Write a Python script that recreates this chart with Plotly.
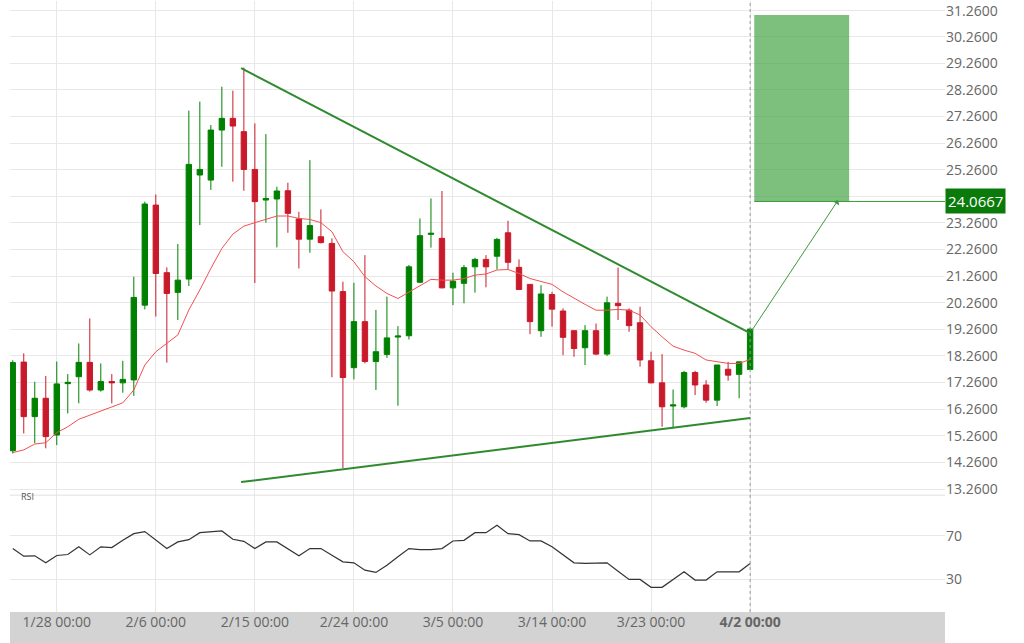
import plotly.graph_objects as go
import pandas as pd

dates = pd.date_range("2019-01-24", periods=68, freq="D")
opens = [14.70,18.03,15.98,16.67,15.29,17.22,17.48,18.02,16.98,17.30,17.25,17.36,20.17,23.93,21.39,20.65,21.15,25.06,24.87,26.75,27.19,26.69,25.27,24.12,24.16,24.47,23.41,22.65,22.74,22.49,20.68,17.82,19.55,18.05,
         18.32,18.97,19.02,21.03,22.83,22.68,20.82,20.99,21.61,21.89,22.01,22.89,21.59,20.95,19.21,20.57,19.95,19.21,18.57,19.21,18.33,20.24,19.98,19.51,18.08,17.25,16.38,16.35,17.64,17.17,16.60,17.76,17.57,17.75]
closes = [18.01,15.98,16.67,15.23,17.21,17.27,18.02,16.98,17.30,17.25,17.38,20.46,23.97,21.36,20.61,21.11,25.46,25.27,26.75,27.19,26.90,25.27,24.06,24.18,24.46,23.62,22.65,23.16,22.52,20.70,17.45,19.55,18.05,18.42,
          18.94,19.01,21.61,22.78,22.87,20.82,21.07,21.58,21.89,21.61,22.64,21.78,20.76,19.55,20.59,20.02,18.96,18.54,19.21,18.33,20.26,20.15,19.40,18.11,17.25,16.35,16.42,17.64,17.17,16.60,17.92,17.54,18.04,19.27]
highs = [18.10,18.36,17.29,17.51,18.05,17.58,18.73,19.67,17.98,17.58,18.08,21.24,24.06,24.33,21.59,22.47,27.48,27.82,26.94,28.38,28.23,29.10,27.00,26.60,24.62,24.77,23.68,25.62,23.77,22.68,21.05,21.01,22.05,19.99,
         20.49,19.38,21.68,23.43,24.18,24.46,21.39,21.68,21.95,22.05,22.70,23.34,21.89,20.95,20.92,20.67,20.05,19.21,19.42,19.48,20.49,21.58,20.05,20.11,18.42,18.33,17.00,17.70,17.70,17.35,17.92,18.04,18.04,19.32]
lows = [14.60,15.35,14.98,14.79,14.91,16.10,16.48,16.92,16.92,16.48,16.88,16.76,20.01,19.74,18.01,19.61,20.89,23.18,24.50,25.37,24.81,24.47,21.00,23.27,22.34,22.89,21.55,22.14,22.49,17.46,14.05,17.38,17.98,16.98,
        18.19,16.39,18.88,21.00,22.33,20.80,20.17,20.24,20.64,20.84,21.51,21.51,20.74,19.08,18.98,19.36,18.29,18.23,17.92,18.29,18.26,19.61,19.17,17.86,17.23,15.60,15.54,16.29,16.79,16.50,16.38,17.33,16.67,17.75]
ma = [14.63,14.73,14.95,15.00,15.38,15.60,15.88,16.04,16.19,16.35,16.50,16.98,17.92,18.42,18.73,19.05,19.99,20.74,21.55,22.30,22.84,23.14,23.27,23.39,23.52,23.52,23.43,23.39,23.27,22.93,22.18,21.80,21.24,20.89,
      20.61,20.42,20.67,20.92,21.14,21.11,21.11,21.17,21.30,21.34,21.49,21.51,21.36,21.17,21.07,20.95,20.67,20.42,20.20,19.98,19.98,20.01,19.98,19.80,19.36,18.98,18.63,18.48,18.36,18.11,18.04,17.98,17.98,18.13]
rsi = [58.4,51.4,51.7,45.3,52.0,52.9,60.0,52.6,60.0,59.3,66.0,72.1,74.0,66.0,58.4,64.5,66.6,73.0,74.0,74.6,67.0,65.1,58.4,64.5,64.5,58.4,51.7,58.4,58.4,52.3,46.2,45.3,38.5,36.4,43.1,50.8,58.4,57.5,
       57.5,58.4,65.4,66.0,73.0,73.0,79.8,72.1,71.2,65.4,65.4,60.0,52.9,45.3,44.7,45.3,45.3,37.6,30.0,30.0,22.7,22.7,30.0,37.0,29.4,29.4,37.0,37.0,37.0,44.7]

price_ticks = [13.26 + i for i in range(19)]
tick_dates = ["2019-01-28", "2019-02-06", "2019-02-15", "2019-02-24", "2019-03-05", "2019-03-14", "2019-03-23", "2019-04-01"]
tick_text = ["1/28 00:00", "2/6 00:00", "2/15 00:00", "2/24 00:00", "3/5 00:00", "3/14 00:00", "3/23 00:00", "<b>4/2 00:00</b>"]
target = 24.0667

GREEN = "#008000"
RED = "#c81a2b"
TL = "#2f8a2f"

fig = go.Figure()
fig.add_trace(go.Candlestick(
    x=dates, open=opens, high=highs, low=lows, close=closes,
    increasing=dict(line=dict(color=GREEN, width=1), fillcolor=GREEN),
    decreasing=dict(line=dict(color=RED, width=1), fillcolor=RED),
    whiskerwidth=0, xaxis="x", yaxis="y", showlegend=False))
fig.add_trace(go.Scatter(x=dates, y=ma, mode="lines", line=dict(color="#f05050", width=1),
                         xaxis="x", yaxis="y", showlegend=False, hoverinfo="skip"))
fig.add_trace(go.Scatter(x=dates, y=rsi, mode="lines", line=dict(color="#333333", width=1.2),
                         xaxis="x2", yaxis="y2", showlegend=False))

xr = ["2019-01-23 18:00", "2019-04-18 17:00"]
common_x = dict(type="date", range=xr, tickvals=tick_dates, showgrid=True, gridcolor="#e8e8e8",
                zeroline=False, fixedrange=True, automargin=False)
ptext = ["" if abs(v - 24.26) < 1e-6 else "%.4f" % v for v in price_ticks]
fig.update_layout(
    width=1024, height=643, margin=dict(l=10, r=79, t=1, b=8, autoexpand=False),
    paper_bgcolor="white", plot_bgcolor="white",
    font=dict(family="Open Sans", color="#666666"),
    xaxis=dict(common_x, domain=[0, 1], anchor="y", showticklabels=False, rangeslider=dict(visible=False)),
    xaxis2=dict(common_x, domain=[0, 1], anchor="y2", matches="x", ticktext=tick_text, ticks="",
                tickfont=dict(size=14, color="#666666", family="Open Sans")),
    yaxis=dict(domain=[0.2206, 1], side="right", range=[13.03, 31.60], tickvals=price_ticks,
               ticktext=ptext, showgrid=True, gridcolor="#e8e8e8", automargin=False,
               zeroline=False, tickfont=dict(size=14, color="#666666"), showline=False),
    yaxis2=dict(domain=[0.0363, 0.2206], side="right", range=[0, 107.6], tickvals=[30, 70], automargin=False,
                showgrid=True, gridcolor="#e8e8e8", zeroline=False, tickfont=dict(size=14, color="#666666")),
)

shapes = [
    dict(type="rect", xref="paper", yref="paper", x0=0, x1=1, y0=-0.0127, y1=0.0363,
         fillcolor="#d3d3d3", line=dict(width=0), layer="below"),
    dict(type="line", xref="paper", yref="paper", x0=0, x1=1, y0=0.2206, y1=0.2206, line=dict(color="#e0e0e0", width=1)),
    dict(type="line", xref="x", yref="paper", x0=dates[-1], x1=dates[-1], y0=0.0363, y1=1,
         line=dict(color="#999999", width=1, dash="dot")),
    dict(type="line", xref="x", yref="y", x0="2019-02-13 18:00", y0=29.08, x1=dates[-1], y1=19.12,
         line=dict(color=TL, width=2)),
    dict(type="line", xref="x", yref="y", x0="2019-02-13 18:00", y0=13.52, x1=dates[-1], y1=15.93,
         line=dict(color=TL, width=2)),
    dict(type="rect", xref="x", yref="y", x0="2019-04-01 09:00", x1="2019-04-10 00:00", y0=target, y1=31.07,
         fillcolor="rgba(70,165,70,0.7)", line=dict(width=0)),
    dict(type="line", xref="x", yref="y", x0="2019-04-01 09:00", x1="2019-04-18 17:00", y0=target, y1=target,
         line=dict(color="#3a9a3a", width=1)),
]
fig.update_layout(shapes=shapes)

fig.add_annotation(x="2019-04-09 00:00", y=target + 0.05, xref="x", yref="y",
                   ax=dates[-1], ay=19.12, axref="x", ayref="y",
                   showarrow=True, arrowhead=1, arrowsize=1.3, arrowwidth=1, arrowcolor="#3a9a3a", text="")
fig.add_annotation(x=1, y=target, xref="paper", yref="y", xanchor="left", text="24.0667",
                   showarrow=False, bgcolor="#0a7a0a", font=dict(color="white", size=15), borderpad=2)
fig.add_annotation(x=1, y=price_ticks[-1], xref="paper", yref="y", xanchor="left", xshift=-1,
                   text="%.4f" % price_ticks[-1], showarrow=False, font=dict(size=14, color="#666666"))
fig.add_annotation(x=0.01, y=0.205, xref="paper", yref="paper", xanchor="left", text="RSI",
                   showarrow=False, font=dict(size=9, color="#555555"))

fig.write_html("out.html", config={"displayModeBar": False},
               post_script="document.body.style.margin='0';")
